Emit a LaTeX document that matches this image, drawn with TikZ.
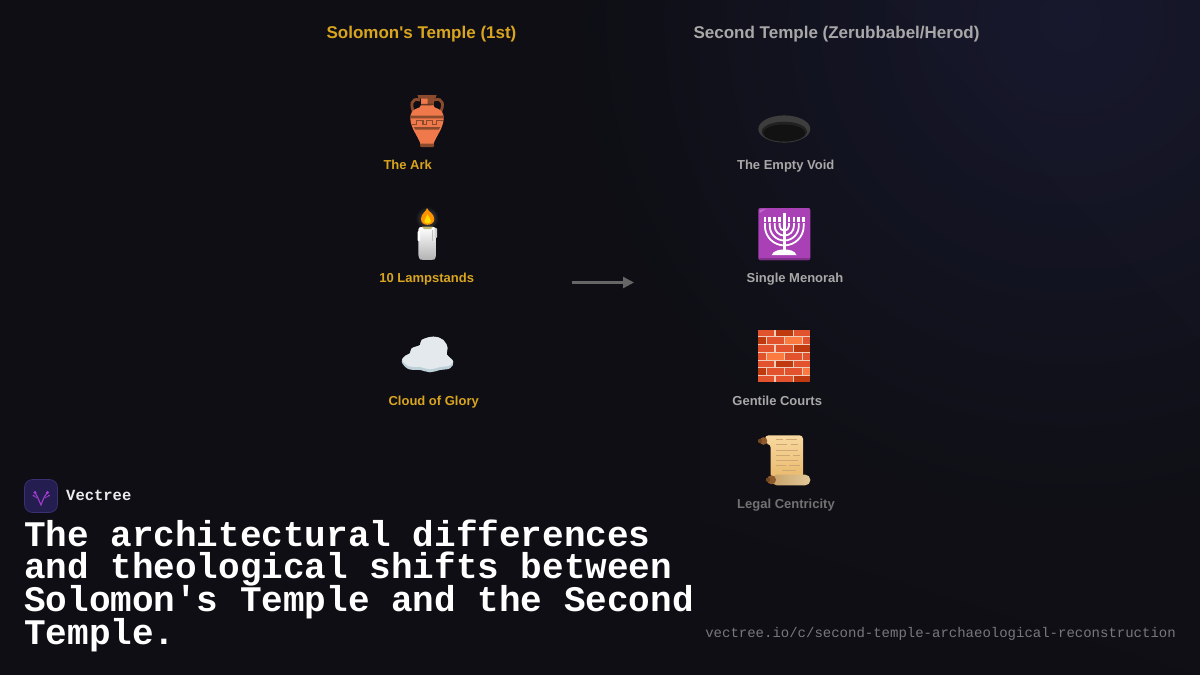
\documentclass[tikz,border=0pt]{standalone}
\usepackage{fontspec}
\setmainfont{Liberation Sans}
\newfontfamily\plainsans{Liberation Sans}
\setmonofont{Liberation Mono}
\usetikzlibrary{arrows.meta}
\normallineskiplimit=-100pt
\lineskiplimit=-100pt
\tikzset{
  header/.style={font=\fontsize{17}{20}\selectfont\plainsans\bfseries, inner sep=0pt, anchor=base},
  itemlabel/.style={font=\fontsize{13}{16}\selectfont\bfseries, inner sep=0pt, anchor=base},
  goldtext/.style={text=gold},
  greytext/.style={text=greyt},
  flow/.style={draw=arrowgrey, line width=2.3pt, -{Triangle[length=11pt,width=11pt]}},
}
\definecolor{bgbase}{HTML}{0E0E14}
\definecolor{bglight}{HTML}{15162B}
\definecolor{gold}{HTML}{D9A51F}
\definecolor{greyt}{HTML}{A8A8A8}
\definecolor{dimt}{HTML}{727272}
\definecolor{arrowgrey}{HTML}{666666}
\definecolor{urlc}{HTML}{78787C}
\definecolor{pot}{HTML}{F0794B}
\definecolor{potd}{HTML}{8B4A2C}
\definecolor{brickm}{HTML}{E2522D}
\definecolor{brickd}{HTML}{BF3A0E}
\definecolor{brickl}{HTML}{FB7A40}
\definecolor{mortar}{HTML}{F0CDBA}
\definecolor{paper}{HTML}{F8D9A0}
\definecolor{paperb}{HTML}{EAB96C}
\definecolor{paperd}{HTML}{C9A36A}
\definecolor{paperl}{HTML}{E2C898}
\definecolor{knob}{HTML}{8E5A2B}
\definecolor{inkc}{HTML}{CDA874}
\definecolor{menor}{HTML}{A940B5}
\definecolor{cloudm}{HTML}{E3E9EC}
\definecolor{cloudd}{HTML}{BDD0D8}
\definecolor{logobg}{HTML}{241D4F}
\definecolor{logoedge}{HTML}{3A3170}
\definecolor{logov}{HTML}{A23BD0}
\begin{document}
\begin{tikzpicture}[x=1pt,y=-1pt]
\useasboundingbox (0,0) rectangle (1200,675);
\begin{scope}
\clip (0,0) rectangle (1200,675);
\fill[bgbase] (0,0) rectangle (1200,675);
\shade[inner color=bglight, outer color=bgbase] (1070,20) circle (500pt);
\fill[white,opacity=.006] (700,0) -- (1200,0) -- (1200,675) -- (700,520) -- cycle;
\fill[white,opacity=.006] (890,0) -- (1200,0) -- (1200,340) -- cycle;
\end{scope}

% headers
\node[header,goldtext] (h1) at (421.5,38.5) {Solomon's Temple (1st)};
\node[header,greytext] (h2) at (836.5,38.5) {Second Temple (Zerubbabel/Herod)};

% labels
\node[itemlabel,goldtext] (l1) at (407.7,169) {The Ark};
\node[itemlabel,goldtext] (l2) at (426.7,282) {10 Lampstands};
\node[itemlabel,goldtext] (l3) at (433.7,405) {Cloud of Glory};
\node[itemlabel,greytext] (r1) at (785.7,169) {The Empty Void};
\node[itemlabel,greytext] (r2) at (795,282) {Single Menorah};
\node[itemlabel,greytext] (r3) at (777.2,405) {Gentile Courts};
\node[itemlabel,text=dimt] (r4) at (786,508) {Legal Centricity};

% arrow
\coordinate (a1) at (571.5,282.5);
\coordinate (a2) at (634,282.5);
\draw[flow] (a1) -- (a2);

% amphora
\draw[potd,line width=2.8pt] (420,100) .. controls (410.5,97) and (410.5,106) .. (414,113);
\draw[potd,line width=2.8pt] (434,100) .. controls (444,97) and (444,106) .. (440,113);
\fill[pot] (421,97) -- (421,105) .. controls (421,107) and (419,108) .. (416,108.8)
  .. controls (412.5,110) and (410.3,113.5) .. (410.3,118)
  .. controls (410.3,128) and (418.5,137) .. (420.5,144) -- (433.5,144)
  .. controls (435.5,137) and (443.7,128) .. (443.7,118)
  .. controls (443.7,113.5) and (441.5,110) .. (438,108.8)
  .. controls (435,108) and (433.5,107) .. (433.5,105) -- (433.5,97) -- cycle;
\fill[potd] (417.5,95) -- (436.5,95) -- (435.5,98.5) -- (418.5,98.5) -- cycle;
\fill[potd] (427.5,98) -- (433.5,98) -- (433.5,104.5) -- (427.5,105.5) -- cycle;
\fill[potd!75!black] (421,104) -- (433.5,103.5) -- (433.5,105.2) -- (421,105.5) -- cycle;
\fill[potd] (410.6,115.5) -- (443.4,115.5) -- (443.7,118.3) -- (410.4,118.3) -- cycle;
\fill[potd] (413.8,127) -- (440.2,127) -- (438.8,129.6) -- (415.2,129.6) -- cycle;
\draw[potd,line width=1.6pt] (411.5,124.6) -- (416.5,124.6) -- (416.5,120.5) -- (423,120.5) -- (423,124.6) -- (426.5,124.6) -- (426.5,120.5) -- (432.5,120.5) -- (432.5,124.6) -- (436.5,124.6) -- (436.5,120.5) -- (442.5,120.5);
\fill[potd,rounded corners=1pt] (420,143.5) rectangle (434,147);

% candle
\shade[inner color=gray!70!bgbase, outer color=bgbase] (427,218) circle (11.5pt);
\fill[orange!85!yellow] (427,208) .. controls (428,211.5) and (434.3,213.5) .. (434.3,219)
  .. controls (434.3,222.8) and (431,224.8) .. (427.5,224.8)
  .. controls (424,224.8) and (421,222.8) .. (421,219)
  .. controls (421,213.5) and (426.5,211.5) .. (427,208) -- cycle;
\fill[yellow!80!orange] (427.5,214.5) .. controls (428.5,217.5) and (431,218.5) .. (431,221)
  .. controls (431,224.3) and (424.3,224.3) .. (424.3,221)
  .. controls (424.3,218.5) and (427,217.5) .. (427.5,214.5) -- cycle;
\shade[top color=white, bottom color=gray!60!white, rounded corners=2.5pt]
  (418.4,227) -- (436,227) -- (436,257.5) .. controls (434,260) and (420.5,260) .. (418.4,257.5) -- cycle;
\fill[white,rounded corners=1pt] (417.5,231) rectangle (420.2,241);
\fill[gray!35!white,rounded corners=1pt] (434.5,228) rectangle (437,238);
\fill[gray!50!white] (432,230) rectangle (433.2,241);
\fill[yellow!40!gray] (422,226.7) -- (433,226.7) -- (431,229) -- (424,229) -- cycle;

% cloud
\def\cloudshape{plot[smooth cycle,tension=.65] coordinates {(401.7,361.7) (405,356) (410,353.3) (411.7,348.3) (420,345) (421.7,340) (433.3,336.7) (443.3,340) (447.7,348.3) (446.7,354.3) (453.3,361.7) (450,368.3) (440,370) (430,372.3) (420,370) (408.3,369)}}
\begin{scope}
  \clip \cloudshape;
  \fill[cloudd] (395,330) rectangle (460,380);
  \fill[cloudm,yshift=3pt] \cloudshape;
\end{scope}

% hole
\fill[black!52!gray] (784.3,129) ellipse (26pt and 13.6pt);
\fill[black!74!gray] (784.3,131.7) ellipse (22.7pt and 10pt);
\fill[black!86!gray] (784.3,133) ellipse (21pt and 8.5pt);

% menorah
\fill[menor,rounded corners=2pt] (758.3,208) rectangle (810.3,260);
\fill[menor!75!black,rounded corners=1pt] (759,258) rectangle (810,260);
\fill[white,opacity=.25] (759.5,213) -- (759.5,210) -- (766,209) -- cycle;
\begin{scope}[white,line width=1.8pt]
  \foreach \rr in {4.7,9.6,14.5,19.4}{
    \draw (784.3-\rr,223) -- (784.3-\rr,226) arc[start angle=180,end angle=360,radius=\rr pt] -- (784.3+\rr,223);
    \fill (784.3-\rr-1.4,216.7) rectangle (784.3-\rr+1.4,222);
    \fill (784.3+\rr-1.4,216.7) rectangle (784.3+\rr+1.4,222);
  }
  \draw[line width=2.6pt] (784.3,216) -- (784.3,251);
  \fill (782.9,213) rectangle (785.7,217);
  \fill (771.7,255) .. controls (773,250.5) and (780,249.5) .. (784.3,249.5)
     .. controls (789,249.5) and (795,250.5) .. (796.5,255) -- cycle;
\end{scope}

% brick wall
\fill[mortar] (758.3,330) rectangle (810.3,382);
\newcommand{\brk}[5]{\fill[#5] (#1-.3,#3-.2) rectangle (#2+.3,#4+.2);}
\brk{758.6}{774}{330.2}{336}{brickm}\brk{776}{793}{330.2}{336}{brickd}\brk{794.5}{810}{330.2}{336}{brickm}
\brk{758.6}{765.5}{337.5}{344}{brickd}\brk{767.5}{784}{337.5}{344}{brickm}\brk{785.5}{802}{337.5}{344}{brickl}\brk{803.5}{810}{337.5}{344}{brickm}
\brk{758.6}{774}{345.5}{352}{brickm}\brk{776}{793}{345.5}{352}{brickm}\brk{794.5}{810}{345.5}{352}{brickd}
\brk{758.6}{765.5}{353.5}{359.5}{brickm}\brk{767.5}{784}{353.5}{359.5}{brickl}\brk{785.5}{802}{353.5}{359.5}{brickm}\brk{803.5}{810}{353.5}{359.5}{brickm}
\brk{758.6}{774}{361}{367}{brickm}\brk{776}{793}{361}{367}{brickd}\brk{794.5}{810}{361}{367}{brickm}
\brk{758.6}{765.5}{368.5}{374.5}{brickd}\brk{767.5}{784}{368.5}{374.5}{brickm}\brk{785.5}{802}{368.5}{374.5}{brickm}\brk{803.5}{810}{368.5}{374.5}{brickl}
\brk{758.6}{774}{376}{381.8}{brickm}\brk{776}{793}{376}{381.8}{brickm}\brk{794.5}{810}{376}{381.8}{brickd}

% scroll
\shade[top color=paper, bottom color=paperb, rounded corners=3.5pt] (765,435.3) -- (803,435.3) -- (803,478) -- (770.7,478) -- (770.7,444) -- (765,444) -- cycle;
\shade[left color=paperd, right color=paperl, rounded corners=5pt] (771.7,474.7) rectangle (810.3,485.3);
\fill[knob] (763.5,441) circle (3.8pt);
\fill[knob!80!black] (760,441) circle (2.2pt);
\fill[knob] (771.5,479.8) circle (4.5pt);
\fill[knob!80!black] (768,479.8) circle (2.2pt);
\begin{scope}[inkc,line width=1.1pt]
  \draw (775.5,439.5) -- (783,439.5) (786,439.5) -- (797,439.5);
  \draw (775.5,444.5) -- (787,444.5) (790.5,444.5) -- (798,444.5);
  \draw (776,450.3) -- (798,450.3);
  \draw (775.5,455.3) -- (790,455.3) (793,455.3) -- (800,455.3);
  \draw (776,460.3) -- (798,460.3);
  \draw (775.5,465.3) -- (786,465.3) (788.5,465.3) -- (800,465.3);
  \draw (782,470.3) -- (796,470.3);
\end{scope}

% logo
\fill[logobg,draw=logoedge,line width=.7pt,rounded corners=8pt] (24.5,479.5) rectangle (57.5,512.5) ;
\begin{scope}[logov,line width=1.1pt]
  \draw (35,492.5) .. controls (37.5,497) .. (41,505) .. controls (44,497) .. (47.5,492.5);
  \draw[line width=.7pt] (33.5,495.5) -- (37,498);
  \draw[line width=.7pt] (49,495.5) -- (45,498);
  \fill (35,492.5) circle (1.7pt);
  \fill (47.5,492.5) circle (1.7pt);
  \fill (33.5,495.5) circle (1pt);
  \fill (49,495.5) circle (1pt);
\end{scope}

\node[inner sep=0pt,anchor=base west,text=white!92!black,font=\fontsize{15.5}{18}\selectfont\ttfamily\bfseries] (brand) at (66,500.5) {Vectree};

\node[inner sep=0pt,anchor=base west,align=left,text=white,font=\fontsize{36}{32.6}\selectfont\ttfamily\bfseries] (title) at (24,644)
  {The architectural differences\\and theological shifts between\\Solomon's Temple and the Second\\Temple.};

\node[inner sep=0pt,anchor=base east,text=urlc,font=\fontsize{14}{16}\selectfont\ttfamily] (url) at (1176,637.3)
  {vectree.io/c/second-temple-archaeological-reconstruction};
\end{tikzpicture}
\end{document}
